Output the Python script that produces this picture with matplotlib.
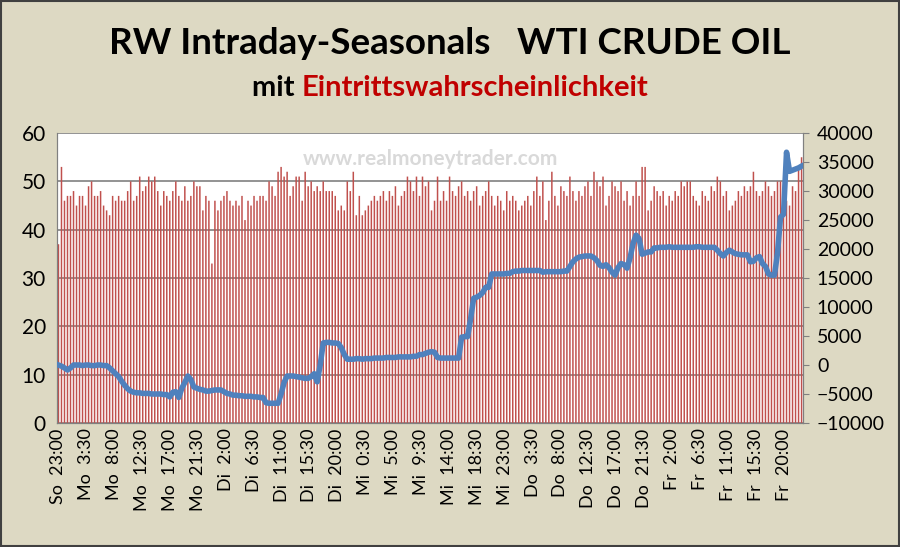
import numpy as np
import matplotlib
matplotlib.use("Agg")
import matplotlib.pyplot as plt

plt.rcParams['font.family'] = ['Lato', 'DejaVu Sans']

tick_labels = ["So  23:00", "Mo  3:30", "Mo  8:00", "Mo  12:30", "Mo  17:00", "Mo  21:30",
               "Di  2:00", "Di  6:30", "Di  11:00", "Di  15:30", "Di  20:00",
               "Mi  0:30", "Mi  5:00", "Mi  9:30", "Mi  14:00", "Mi  18:30", "Mi  23:00",
               "Do  3:30", "Do  8:00", "Do  12:30", "Do  17:00", "Do  21:30",
               "Fr  2:00", "Fr  6:30", "Fr  11:00", "Fr  15:30", "Fr  20:00"]

probability = [
    37, 53, 46, 47, 47, 48, 45, 47, 47, 45,
    49, 50, 47, 47, 48, 45, 44, 43, 47, 46,
    47, 46, 46, 48, 50, 46, 47, 51, 48, 49,
    51, 50, 51, 48, 45, 48, 47, 46, 48, 50,
    47, 46, 49, 46, 47, 50, 49, 49, 44, 47,
    46, 33, 46, 44, 46, 47, 48, 46, 45, 46,
    45, 47, 42, 46, 45, 47, 46, 47, 47, 46,
    50, 49, 47, 52, 53, 51, 52, 47, 49, 51,
    51, 46, 52, 49, 50, 48, 49, 48, 50, 48,
    48, 48, 47, 44, 45, 44, 50, 48, 52, 43,
    47, 43, 44, 45, 46, 47, 46, 47, 48, 46,
    48, 47, 49, 45, 47, 48, 51, 50, 48, 51,
    47, 51, 49, 50, 44, 46, 51, 46, 48, 46,
    51, 48, 47, 49, 50, 47, 48, 46, 48, 49,
    45, 47, 48, 50, 47, 45, 47, 46, 44, 48,
    46, 47, 46, 44, 45, 46, 47, 45, 48, 51,
    47, 50, 42, 46, 52, 47, 45, 49, 48, 47,
    51, 48, 46, 48, 47, 49, 50, 47, 52, 50,
    49, 51, 45, 47, 50, 49, 48, 50, 46, 48,
    45, 47, 50, 47, 53, 53, 44, 46, 49, 48,
    47, 48, 45, 47, 46, 48, 47, 50, 49, 50,
    50, 47, 46, 45, 48, 47, 46, 49, 48, 51,
    50, 47, 48, 44, 45, 46, 48, 47, 49, 48,
    49, 52, 48, 47, 48, 50, 49, 47, 48, 50,
    50, 50, 46, 45, 49, 48, 53, 55,
]

cumulative = [
    0, -200, -500, -850, -500, 0, 0, 0, -100, 0,
    0, -100, -100, 0, 0, -100, -100, -500, -1000, -1500,
    -2000, -2800, -3500, -4100, -4500, -4700, -4800, -4800, -4900, -4900,
    -4900, -5000, -5000, -5000, -5000, -5100, -5100, -5500, -4700, -4600,
    -5600, -4000, -3000, -1900, -2500, -3800, -4000, -4200, -4300, -4500,
    -4500, -4400, -4300, -4300, -4300, -4600, -4900, -5000, -5200, -5200,
    -5300, -5300, -5400, -5400, -5400, -5500, -5500, -5600, -5600, -6500,
    -6600, -6600, -6600, -6600, -5000, -3000, -1900, -1900, -1900, -2000,
    -2100, -2200, -2300, -2300, -2000, -1500, -2900, 0, 3800, 3900,
    3900, 3800, 3800, 3700, 3000, 1800, 1000, 1000, 1000, 1100,
    1100, 1000, 1100, 1100, 1100, 1200, 1200, 1200, 1200, 1300,
    1300, 1300, 1300, 1400, 1400, 1400, 1400, 1400, 1500, 1500,
    1800, 1800, 2000, 2200, 2300, 2200, 1300, 1200, 1200, 1200,
    1200, 1200, 1200, 1200, 4800, 4900, 4900, 8000, 11500, 11700,
    12000, 12500, 13400, 13400, 15700, 15700, 15700, 15700, 15700, 15800,
    15800, 16100, 16200, 16200, 16300, 16300, 16300, 16300, 16300, 16300,
    16300, 16000, 16100, 16100, 16100, 16100, 16100, 16100, 16200, 16200,
    17000, 17800, 18300, 18600, 18700, 18800, 18800, 18800, 18500, 18000,
    17200, 17000, 17300, 16800, 16000, 15500, 16800, 17500, 17300, 16700,
    18500, 21000, 22400, 21800, 19100, 19300, 19500, 19500, 20200, 20200,
    20300, 20300, 20300, 20400, 20300, 20300, 20300, 20300, 20300, 20300,
    20300, 20300, 20400, 20400, 20300, 20300, 20300, 20300, 20300, 19800,
    19200, 18800, 19400, 19800, 19500, 19200, 19100, 19000, 19000, 19000,
    17800, 17900, 18500, 18700, 17500, 17000, 15700, 15500, 15500, 19300,
    25500, 26000, 36700, 33400, 33600, 33800, 34000, 34300,
]

bg = '#DDD9C3'
fig = plt.figure(figsize=(9, 5.47), dpi=100, facecolor=bg)
fig.patches.append(plt.Rectangle((0.001, 0.001), 0.998, 0.997, transform=fig.transFigure,
                                 fill=False, edgecolor='#404040', lw=1.5))
ax = fig.add_axes([0.0633, 0.2267, 0.829, 0.530])
ax.set_facecolor('white')
xb = np.arange(len(probability))
ax.bar(xb, probability, width=0.5, color='#C0504D', zorder=2, snap=False, linewidth=0)
ax.set_ylim(0, 60)
ax.set_yticks(range(0, 61, 10))
ax.set_xlim(-0.5, len(probability) - 0.5)
ax.grid(axis='y', color='#808080', lw=1.2, zorder=1)
ax.set_axisbelow(True)
pos = np.linspace(0, 241, len(tick_labels))
ax.set_xticks(pos)
ax.set_xticklabels(tick_labels, rotation=90, fontsize=13)
ax.tick_params(axis='x', length=0, pad=4)
ax.tick_params(axis='y', labelsize=15, length=0, pad=8)
for s in ax.spines.values():
    s.set_color('#808080')
ax.spines['top'].set_visible(False)

ax2 = ax.twinx()
ax2.plot(np.arange(len(cumulative)), cumulative, color='#4F81BD', lw=4, zorder=3)
ax2.set_ylim(-10000, 40000)
ax2.set_yticks(range(-10000, 40001, 5000))
ax2.tick_params(axis='y', labelsize=14, length=4, color='#808080', pad=6)
for s in ax2.spines.values():
    s.set_color('#808080')
ax2.spines['top'].set_visible(False)

ax.text(0.5, 0.91, 'www.realmoneytrader.com', transform=ax.transAxes, ha='center', va='center',
        fontsize=15, fontweight='bold', color='#D9D9D9', zorder=5)

fig.text(0.5, 0.92, 'RW Intraday-Seasonals   WTI CRUDE OIL', ha='center', va='center',
         fontsize=26.5, fontweight='bold', color='black')
t1 = fig.text(0, 0.84, 'mit ', ha='left', va='center', fontsize=21, fontweight='bold', color='black')
t2 = fig.text(0, 0.84, 'Eintrittswahrscheinlichkeit', ha='left', va='center', fontsize=21,
              fontweight='bold', color='#C00000')
r = fig.canvas.get_renderer()
w1 = t1.get_window_extent(r).width
w2 = t2.get_window_extent(r).width
W = fig.bbox.width
start = (W - (w1 + w2)) / 2
t1.set_x(start / W)
t2.set_x((start + w1) / W)
fig.savefig('out.png', dpi=100, facecolor=bg)
